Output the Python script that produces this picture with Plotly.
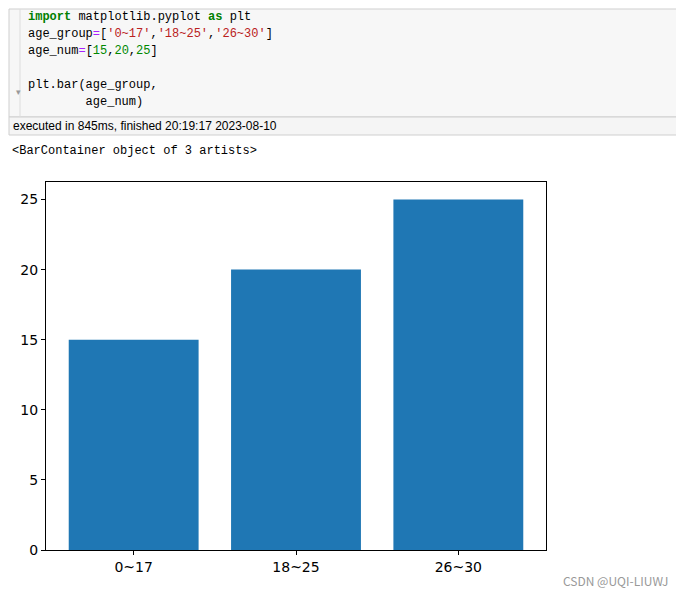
import plotly.graph_objects as go

age_group = ['0~17', '18~25', '26~30']
age_num = [15, 20, 25]
y_ticks = [0, 5, 10, 15, 20, 25]

# the page body adds an 8px margin, so lay out in screen pixels and shift
OFF = 8
W, H = 684 - OFF, 598 - OFF
L, R, T, B = 46, 546, 182, 550


def px(x):
    return (x - L) / (R - L)


def py(y):
    return (B - y) / (B - T)


fig = go.Figure()
fig.add_trace(go.Bar(x=list(range(len(age_group))), y=age_num, width=0.8,
                     marker=dict(color='#1f77b4', line=dict(width=0))))

fig.update_layout(
    width=W, height=H,
    margin=dict(l=L - OFF, r=W - (R - OFF), t=T - OFF, b=H - (B - OFF)),
    plot_bgcolor='white', paper_bgcolor='white', showlegend=False,
    font=dict(family='DejaVu Sans', size=14, color='black'),
)
fig.update_xaxes(range=[-0.54, 2.54], tickvals=list(range(len(age_group))),
                 ticktext=age_group, ticks='outside', ticklen=4, tickcolor='black',
                 showline=True, linecolor='black', mirror=True, showgrid=False,
                 zeroline=False)
fig.update_yaxes(range=[0, 26.25], tickvals=y_ticks, ticks='outside', ticklen=4,
                 tickcolor='black', showline=True, linecolor='black', mirror=True,
                 showgrid=False, zeroline=False)

# notebook cell chrome (screen pixels; nothing can be drawn above/left of 8px)
shapes = [
    dict(x0=9, x1=683, y0=9, y1=117, fill='#f7f7f7', line='#cfcfcf'),
    dict(x0=9, x1=683, y0=117, y1=135, fill='#f5f5f5', line='#cfcfcf'),
]
for s in shapes:
    fig.add_shape(type='rect', xref='paper', yref='paper',
                  x0=px(s['x0']), x1=px(s['x1']), y0=py(s['y1']), y1=py(s['y0']),
                  fillcolor=s['fill'], line=dict(color=s['line'], width=1), layer='below')
fig.add_shape(type='line', xref='paper', yref='paper', x0=px(20), x1=px(20),
              y0=py(117), y1=py(9), line=dict(color='#dddddd', width=1))

G = '<span style="color:#008000"><b>%s</b></span>'
P = '<span style="color:#aa22ff">%s</span>'
S = '<span style="color:#ba2121">%s</span>'
N = '<span style="color:#008800">%s</span>'
code_lines = [
    (G % 'import') + ' matplotlib.pyplot ' + (G % 'as') + ' plt',
    'age_group' + (P % '=') + '[' + (S % "'0~17'") + ',' + (S % "'18~25'") + ',' + (S % "'26~30'") + ']',
    'age_num' + (P % '=') + '[' + (N % '15') + ',' + (N % '20') + ',' + (N % '25') + ']',
    '',
    'plt.bar(age_group,',
    '        age_num)',
]
for i, line in enumerate(code_lines):
    if line:
        fig.add_annotation(text=line, xref='paper', yref='paper', x=px(26), y=py(17 + 17 * i),
                           xanchor='left', yanchor='middle', showarrow=False,
                           font=dict(family='Liberation Mono', size=12, color='#000'))

fig.add_annotation(text='▾', xref='paper', yref='paper', x=px(14), y=py(85), showarrow=False,
                   font=dict(size=9, color='#999'))
fig.add_annotation(text='executed in 845ms, finished 20:19:17 2023-08-10', xref='paper',
                   yref='paper', x=px(11), y=py(126), xanchor='left', yanchor='middle',
                   showarrow=False, font=dict(family='Liberation Sans', size=12, color='#000'))
fig.add_annotation(text='&lt;BarContainer object of 3 artists&gt;', xref='paper', yref='paper',
                   x=px(10), y=py(151), xanchor='left', yanchor='middle', showarrow=False,
                   font=dict(family='Liberation Mono', size=12, color='#000'))
fig.add_annotation(text='CSDN @UQI-LIUWJ', xref='paper', yref='paper', x=px(670), y=py(580),
                   xanchor='right', yanchor='middle', showarrow=False,
                   font=dict(family='Noto Sans CJK SC', size=12, color='#999'))

fig.write_html('out.html')
